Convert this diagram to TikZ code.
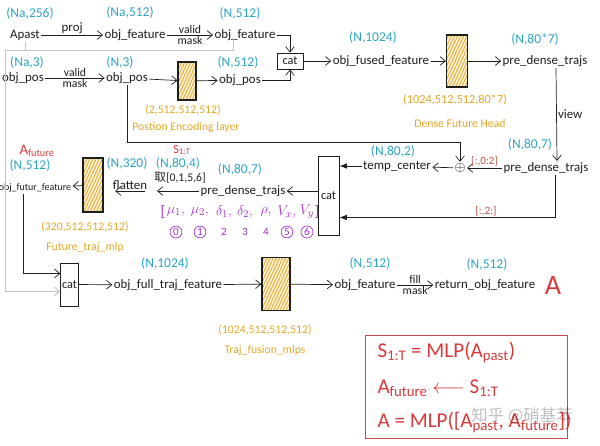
\documentclass[tikz,border=0pt]{standalone}
\usepackage{fontspec}
\setmainfont{Carlito}
\newfontfamily\cjk{Noto Sans CJK SC}
\usepackage{tikz}
\usetikzlibrary{arrows.meta,positioning,calc,patterns.meta}
\definecolor{cInk}{HTML}{1E1E1E}
\definecolor{cDim}{HTML}{2BA3C2}
\definecolor{cHyp}{HTML}{E2A72A}
\definecolor{cHatchBg}{HTML}{FBF1D2}
\definecolor{cRed}{HTML}{D8393A}
\definecolor{cIdx}{HTML}{C2544E}
\definecolor{cPurple}{HTML}{A332C6}
\definecolor{cFrame}{HTML}{C44A4A}
\definecolor{cGhost}{HTML}{C4C4C4}

\begin{document}
\begin{tikzpicture}[x=0.03cm, y=-0.03cm, >={Straight Barb[length=1.6mm,width=2.6mm]}, line width=0.6pt,
  every node/.style={inner sep=1pt},
  lbl/.style={text=cInk, font=\fontsize{11}{13}\selectfont},
  dimlbl/.style={text=cDim, font=\fontsize{11.5}{13}\selectfont},
  hyplbl/.style={text=cHyp, font=\fontsize{10}{12}\selectfont},
  note/.style={text=cInk, font=\fontsize{10}{11}\selectfont},
  idx/.style={text=cIdx, font=\fontsize{9.5}{11}\selectfont},
  mlpbox/.style={draw=cInk, line width=1pt, preaction={fill=cHatchBg},
    pattern={Lines[angle=65,distance=2.4pt,line width=0.7pt]}, pattern color=cHyp},
  catbox/.style={draw=cInk, line width=0.8pt, text=cInk, font=\fontsize{10.5}{12}\selectfont},
  flow/.style={->, cInk},
  feed/.style={-{Latex[length=2.2mm]}, cInk},
  ghost/.style={cGhost, line width=0.8pt},
  vec/.style={text=cPurple, font=\fontsize{13}{15}\selectfont},
  idxring/.style={circle, draw=cPurple, text=cPurple, inner sep=0.8pt, font=\fontsize{9.5}{10}\selectfont},
  idxplain/.style={text=cPurple, font=\fontsize{9.5}{10}\selectfont},
  formula/.style={anchor=west, text=cRed, font=\fontsize{18}{20}\selectfont}]
  \useasboundingbox (0,0) rectangle (600,445);

  % past branch
  \node[lbl] (apast) at (25,35) {Apast};
  \node[dimlbl] (apastdim) at (30,14) {(Na,256)};
  \node[lbl] (feat1) at (135,35) {obj\_feature};
  \node[dimlbl] (feat1dim) at (130,13) {(Na,512)};
  \node[lbl] (feat2) at (245,35) {obj\_feature};
  \node[dimlbl] (feat2dim) at (240,14) {(N,512)};
  \draw[flow] (apast) -- node[above, lbl] {proj} (feat1);
  \draw[flow] (feat1) -- node[above, note] {valid} node[below, note] {mask} (feat2);

  \node[lbl] (pos1) at (23,78) {obj\_pos};
  \node[dimlbl] (pos1dim) at (27,63) {(Na,3)};
  \node[lbl] (pos2) at (127,78) {obj\_pos};
  \node[dimlbl] (pos2dim) at (120,63) {(N,3)};
  \node[mlpbox, minimum width=0.54cm, minimum height=1.14cm] (pel) at (187,81) {};
  \node[hyplbl] (peldim) at (183,110) {(2,512,512,512)};
  \node[hyplbl] (pelname) at (186,127) {Postion Encoding layer};
  \node[lbl] (pos3) at (240,80) {obj\_pos};
  \node[dimlbl] (pos3dim) at (238,63) {(N,512)};
  \node[catbox, minimum width=0.78cm, minimum height=0.48cm] (cat1) at (290,61) {cat};
  \draw[flow] (pos1) -- node[above, note] {valid} node[below, note] {mask} (pos2);
  \draw[flow] (pos2) -- (pel);
  \draw[flow] (pel) -- (pos3);
  \draw[flow] (feat2) -| (cat1);
  \draw[flow] (pos3) -| (cat1);

  % dense head
  \node[lbl] (fused) at (381,61) {obj\_fused\_feature};
  \node[dimlbl] (fuseddim) at (373,38) {(N,1024)};
  \node[mlpbox, minimum width=0.63cm, minimum height=1.56cm] (dfh) at (457,61) {};
  \node[hyplbl, font=\fontsize{10.5}{12}\selectfont] (dfhdim) at (455,100) {(1024,512,512,80*7)};
  \node[hyplbl] (dfhname) at (460,123) {Dense Future Head};
  \node[lbl] (pre1) at (545,61) {pre\_dense\_trajs};
  \node[dimlbl] (pre1dim) at (535,40) {(N,80*7)};
  \draw[flow] (cat1) -- (fused);
  \draw[flow] (fused) -- (dfh);
  \draw[flow] (dfh) -- (pre1);

  % reshape and centre
  \node[lbl] (pre2) at (546,168) {pre\_dense\_trajs};
  \node[dimlbl] (pre2dim) at (530,145) {(N,80,7)};
  \draw[flow] ($(pre1.south)+(11,0)$) -- node[right, lbl] {view} ($(pre2.north)+(11,0)$);
  \node[font=\fontsize{12}{14}\selectfont] (add) at (460,168) {$\oplus$};
  \node[lbl] (temp) at (397,166) {temp\_center};
  \node[dimlbl] (tempdim) at (393,152) {(N,80,2)};
  \coordinate (skip) at (460,142);
  \draw[flow] (pre2) -- node[above, idx] {[:,0:2]} (add);
  \draw[flow] (add) -- (temp);
  \draw[flow] (pos2.south) |- (skip) -- (add);
  \node[catbox, minimum width=0.63cm, minimum height=2.37cm] (cat2) at (328.5,195.5) {cat};
  \coordinate (cat2b) at ($(cat2.south east)+(0,-18)$);
  \draw[feed] (temp) -- (cat2.east |- temp);
  \draw[feed] ($(pre2.south)+(9,0)$) |- node[pos=0.66, above, idx] {[:,2:]} (cat2b);

  % future branch
  \node[lbl] (pre3) at (243,191) {pre\_dense\_trajs};
  \node[dimlbl] (pre3dim) at (240,170) {(N,80,7)};
  \draw[flow] (cat2.west |- pre3) -- (pre3);
  \foreach \x/\sym/\n/\st in {176/{$\mu_1,$}/0/idxring, 200/{$\mu_2,$}/1/idxring,
      224/{$\delta_1,$}/2/idxplain, 245/{$\delta_2,$}/3/idxplain, 266/{$\rho,$}/4/idxplain,
      287/{$V_x,$}/5/idxring, 307/{$V_y$}/6/idxring}{
    \node[vec] (v\n) at (\x,212) {\sym};
    \node[\st] (i\n) at (\x,232) {\n};
  }
  \node[vec] (vopen) at (163,212) {[};
  \node[vec] (vclose) at (317,212) {]};
  \coordinate (selend) at (157,191);
  \coordinate (flatstart) at (145,191);
  \coordinate (flatend) at (115,191);
  \node[text=cRed, font=\fontsize{10.5}{12}\selectfont] (s1t) at (182,150) {S\textsubscript{1:T}};
  \node[dimlbl] (seldim) at (178,164) {(N,80,4)};
  \node[note] (seltake) at (180,178) {{\cjk 取}[0,1,5,6]};
  \node[dimlbl] (flatdim) at (127,164) {(N,320)};
  \draw[flow] (pre3) -- (selend);
  \draw[flow] (flatstart) -- node[above, lbl] {flatten} (flatend);
  \node[mlpbox, minimum width=0.6cm, minimum height=1.62cm] (ftm) at (93,185) {};
  \node[hyplbl] (ftmdim) at (85,227) {(320,512,512,512)};
  \node[hyplbl] (ftmname) at (85,247) {Future\_traj\_mlp};
  \node[lbl, font=\fontsize{8.5}{10}\selectfont] (fut) at (35,188) {obj\_futur\_feature};
  \node[dimlbl] (futdim) at (30,166) {(N,512)};
  \node[text=cRed, font=\fontsize{12.5}{14}\selectfont] (afut) at (37,151) {A\textsubscript{future}};
  \draw[flow] (ftm) -- (fut);

  % fusion
  \node[catbox, minimum width=0.51cm, minimum height=1.29cm] (cat3) at (69.5,284.5) {cat};
  \coordinate (cat3a) at ($(cat3.north west)+(0,11)$);
  \coordinate (cat3b) at ($(cat3.north west)+(0,29)$);
  \draw[flow] ($(fut.south)+(-12,0)$) |- (cat3a);
  \coordinate (ghostL) at (5,50);
  \coordinate (ghostR) at (233,50);
  \coordinate (ghostT) at (233,38);
  \draw[ghost, ->] (apast.south) |- (ghostL) |- (cat3b);
  \draw[ghost] (apast.south |- ghostL) -- (ghostR) -- (ghostT);
  \node[lbl] (full) at (168,285) {obj\_full\_traj\_feature};
  \node[dimlbl] (fulldim) at (165,263) {(N,1024)};
  \node[mlpbox, minimum width=0.84cm, minimum height=1.59cm] (tfm) at (276,284) {};
  \node[hyplbl] (tfmdim) at (265,330) {(1024,512,512,512)};
  \node[hyplbl] (tfmname) at (265,350) {Traj\_fusion\_mlps};
  \node[lbl] (feat3) at (365,285) {obj\_feature};
  \node[dimlbl] (feat3dim) at (370,263) {(N,512)};
  \node[lbl] (ret) at (485,285) {return\_obj\_feature};
  \node[dimlbl] (retdim) at (487,265) {(N,512)};
  \node[text=cRed, font=\fontsize{24}{26}\selectfont] (abig) at (553,285) {A};
  \draw[flow] (cat3) -- (full);
  \draw[flow] (full) -- (tfm);
  \draw[flow] (tfm) -- (feat3);
  \draw[flow] (feat3) -- node[above, note] {fill} node[below, note] {mask} (ret);

  % summary
  \node[draw=cFrame, line width=0.8pt, minimum width=6.06cm, minimum height=3.09cm] (summary) at (466,386.5) {};
  \node[formula] (eq1) at (376,352) {S\textsubscript{1:T} = MLP(A\textsubscript{past})};
  \node[formula] (eq2) at (376,388) {A\textsubscript{future} $\longleftarrow$ S\textsubscript{1:T}};
  \node[formula] (eq3) at (376,422) {A = MLP([A\textsubscript{past}, A\textsubscript{future}])};
  \node[text=black, opacity=0.25, font=\fontsize{14}{16}\selectfont] (wmark) at (522,416) {\cjk 知乎 @硝基苯};
\end{tikzpicture}
\end{document}
